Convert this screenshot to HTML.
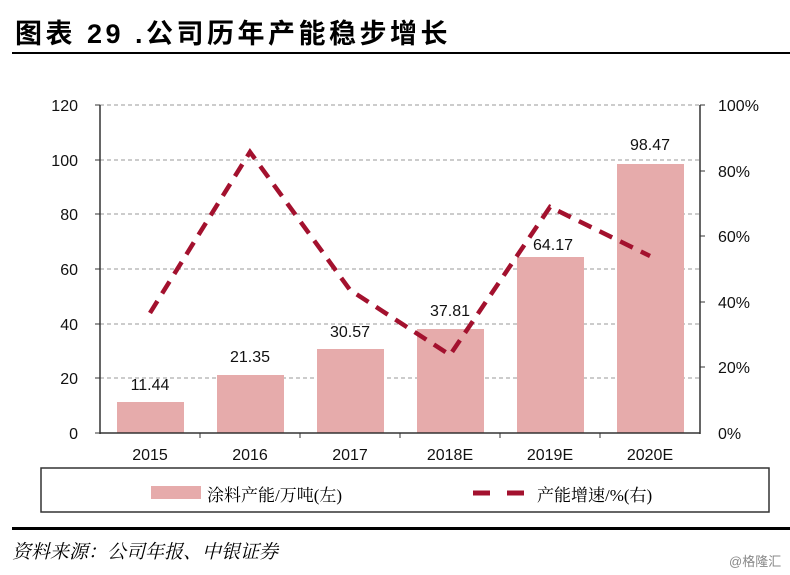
<!DOCTYPE html>
<html><head><meta charset="utf-8"><style>
body{margin:0;width:790px;height:575px;background:#fff;overflow:hidden;position:relative;font-family:"Liberation Sans","Noto Sans CJK SC",sans-serif}
.t{position:absolute;white-space:nowrap}
</style></head><body>
<div class="t" style="left:15px;top:12px;font-size:27px;font-weight:bold;letter-spacing:3.5px;font-family:'Liberation Sans','Noto Sans CJK SC',sans-serif">图表 29 .公司历年产能稳步增长</div>
<div style="position:absolute;left:12px;top:52px;width:778px;height:2px;background:#000"></div>
<svg width="790" height="575" style="position:absolute;left:0;top:0" font-family="Liberation Sans, sans-serif">
<g stroke="#999" stroke-dasharray="4,3" stroke-width="1">
<line x1="100" x2="700" y1="105" y2="105"/><line x1="100" x2="700" y1="160" y2="160"/><line x1="100" x2="700" y1="214" y2="214"/><line x1="100" x2="700" y1="269" y2="269"/><line x1="100" x2="700" y1="324" y2="324"/><line x1="100" x2="700" y1="378" y2="378"/>
</g>
<g fill="#e6abab">
<rect x="117" y="402" width="67" height="31"/>
<rect x="217" y="375" width="67" height="58"/>
<rect x="317" y="349" width="67" height="84"/>
<rect x="417" y="329" width="67" height="104"/>
<rect x="517" y="257" width="67" height="176"/>
<rect x="617" y="164" width="67" height="269"/>
</g>
<g stroke="#333" stroke-width="1.5" fill="none">
<line x1="100" y1="105" x2="100" y2="434"/><line x1="700" y1="105" x2="700" y2="434"/><line x1="100" y1="433" x2="700" y2="433"/>
</g>
<g stroke="#333" stroke-width="1">
<line x1="95" x2="100" y1="105" y2="105"/><line x1="95" x2="100" y1="160" y2="160"/><line x1="95" x2="100" y1="214" y2="214"/><line x1="95" x2="100" y1="269" y2="269"/><line x1="95" x2="100" y1="324" y2="324"/><line x1="95" x2="100" y1="378" y2="378"/><line x1="95" x2="100" y1="433" y2="433"/>
<line x1="700" x2="705" y1="105" y2="105"/><line x1="700" x2="705" y1="171" y2="171"/><line x1="700" x2="705" y1="236" y2="236"/><line x1="700" x2="705" y1="302" y2="302"/><line x1="700" x2="705" y1="367" y2="367"/>
<line x1="200" x2="200" y1="433" y2="438"/><line x1="300" x2="300" y1="433" y2="438"/><line x1="400" x2="400" y1="433" y2="438"/><line x1="500" x2="500" y1="433" y2="438"/><line x1="600" x2="600" y1="433" y2="438"/>
</g>
<polyline points="150,313 250,152 350,290 450,355 550,207 650,256" fill="none" stroke="#a3112e" stroke-width="4.5" stroke-dasharray="14,9"/>
<g font-size="16" fill="#111" text-anchor="end">
<text x="78" y="111">120</text><text x="78" y="166">100</text><text x="78" y="220">80</text><text x="78" y="275">60</text><text x="78" y="330">40</text><text x="78" y="384">20</text><text x="78" y="439">0</text>
</g>
<g font-size="16" fill="#111">
<text x="718" y="111">100%</text><text x="718" y="177">80%</text><text x="718" y="242">60%</text><text x="718" y="308">40%</text><text x="718" y="373">20%</text><text x="718" y="439">0%</text>
</g>
<g font-size="16" fill="#111" text-anchor="middle">
<text x="150" y="460">2015</text><text x="250" y="460">2016</text><text x="350" y="460">2017</text><text x="450" y="460">2018E</text><text x="550" y="460">2019E</text><text x="650" y="460">2020E</text>
<text x="150" y="390">11.44</text><text x="250" y="362">21.35</text><text x="350" y="337">30.57</text><text x="450" y="316">37.81</text><text x="553" y="250">64.17</text><text x="650" y="150">98.47</text>
</g>
<rect x="41" y="468" width="728" height="44" fill="none" stroke="#333" stroke-width="1.5"/>
<rect x="151" y="486" width="50" height="13" fill="#e6abab"/>
<line x1="473" x2="490" y1="493" y2="493" stroke="#a3112e" stroke-width="5"/>
<line x1="507" x2="524" y1="493" y2="493" stroke="#a3112e" stroke-width="5"/>
<rect x="12" y="527" width="778" height="3" fill="#000"/>
</svg>
<div class="t" style="left:207px;top:481px;font-size:17px;font-family:'Liberation Serif','Noto Serif CJK SC',serif">涂料产能/万吨(左)</div>
<div class="t" style="left:537px;top:481px;font-size:17px;font-family:'Liberation Serif','Noto Serif CJK SC',serif">产能增速/%(右)</div>
<div class="t" style="left:12px;top:537px;font-size:19px;font-style:italic;font-family:'Liberation Serif','Noto Serif CJK SC',serif">资料来源：公司年报、中银证券</div>
<div class="t" style="left:729px;top:551px;font-size:13px;color:#888;font-family:'Liberation Sans','Noto Sans CJK SC',sans-serif">@格隆汇</div>
</body></html>
